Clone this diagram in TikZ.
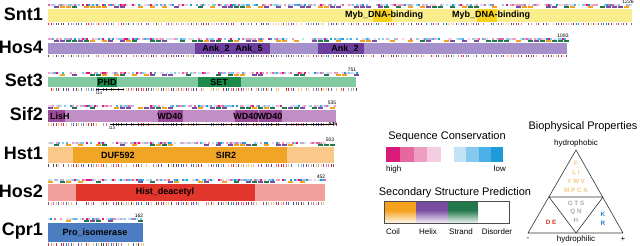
\documentclass[tikz,border=0pt]{standalone}
\usepackage{fontspec}
\setmainfont{Liberation Sans}
\usetikzlibrary{positioning, calc}

%% Conservation (high -> low), secondary structure, biophysical colours
\definecolor{cons1}{HTML}{D81B7A}
\definecolor{cons2}{HTML}{E5699F}
\definecolor{cons3}{HTML}{EC9DC0}
\definecolor{cons4}{HTML}{F4CDE0}
\definecolor{cons5}{HTML}{C3E2F5}
\definecolor{cons6}{HTML}{86C8EE}
\definecolor{cons7}{HTML}{4BB0E6}
\definecolor{cons8}{HTML}{1E9AD8}
\colorlet{tr1}{cons1}  \colorlet{tr2}{cons2}  \colorlet{tr3}{cons3}
\colorlet{tr4}{cons3}  \colorlet{tr5}{cons4}  \colorlet{tr6}{cons4}
\colorlet{tr7}{cons5}  \colorlet{tr8}{cons5}  \colorlet{tr9}{cons6}
\colorlet{tr10}{cons6} \colorlet{tr11}{cons7} \colorlet{tr12}{cons8}
\definecolor{ss1}{HTML}{F4A11E}
\definecolor{ss2}{HTML}{7A4DA0}
\definecolor{ss3}{HTML}{22784A}
\definecolor{bp1}{HTML}{F6C27C}
\definecolor{bp2}{HTML}{F6C27C}
\definecolor{bp3}{HTML}{A8A8A8}
\definecolor{bp4}{HTML}{D9342B}
\definecolor{bp5}{HTML}{2D7BC0}
\definecolor{bp6}{HTML}{4D4D4D}
\definecolor{bp7}{HTML}{7A4DA0}
\definecolor{bp8}{HTML}{E5699F}
%% Bars and domains
\definecolor{sntbar}{HTML}{FAEE8C}
\definecolor{sntdom}{HTML}{F8D21C}
\definecolor{hosbar}{HTML}{A690CC}
\definecolor{hosdom}{HTML}{6C3E9E}
\definecolor{setbar}{HTML}{80C9A1}
\definecolor{setdom}{HTML}{1B8A4B}
\definecolor{sifbar}{HTML}{C28EC6}
\definecolor{sifdom}{HTML}{9A4A98}
\definecolor{hstbar}{HTML}{FAC98A}
\definecolor{hstdom}{HTML}{F0A526}
\definecolor{hsrbar}{HTML}{F2A09E}
\definecolor{hsrdom}{HTML}{E2352B}
\definecolor{cprbar}{HTML}{4C7CC2}
\definecolor{hydrophobe}{HTML}{F5C884}
\definecolor{polar}{HTML}{ABABAB}

\tikzset{
  protein/.style = {font = \bfseries\fontsize{18}{18}\selectfont, anchor = east, inner sep = 0pt},
  domainlabel/.style = {font = \bfseries\fontsize{9}{9}\selectfont, inner sep = 0pt},
  seqlength/.style = {font = \fontsize{5}{5}\selectfont, inner sep = 0pt},
  poslabel/.style = {font = \fontsize{4}{4}\selectfont, inner sep = 0pt},
  legendtitle/.style = {font = \fontsize{11}{11}\selectfont, inner sep = 0pt},
  legendlabel/.style = {font = \fontsize{8}{8}\selectfont, inner sep = 0pt},
  swatch/.style = {anchor = north west, inner sep = 0pt, minimum height = 15pt},
  residue/.style = {font = \bfseries\fontsize{6.3}{6.3}\selectfont, inner sep = 0pt},
  triangleline/.style = {draw = black!80, line width = 0.6pt, line join = round}
}
\def \barstart {48}

\begin{document}
\begin{tikzpicture}[x = 1pt, y = -1pt]
\useasboundingbox (0,0) rectangle (640,246);

\foreach \prot/\ybar/\bh/\len/\seqlen/\col [count = \i] in
  {Snt1/9/13/632/1226/sntbar, Hos4/43/11/567/1083/hosbar, Set3/77/10/356/751/setbar,
   Sif2/110/12/336/535/sifbar, Hst1/147/16/334/503/hstbar, Hos2/184/17/325/452/hsrbar,
   Cpr1/223/19/143/162/cprbar} {
  \pgfmathsetseed{\i*37}

  %% Names and bars
  \node [protein] (name\i) at (43, {\ybar+\bh/2-1.5}) {\prot};
  \fill [\col] (\barstart, \ybar) rectangle (\len, {\ybar+\bh});
  \node [seqlength] (len\i) at ({\len-4}, {\ybar-7.5}) {\seqlen};

  %% Conservation track
  \foreach \x in {48,50,...,\len} {
    \pgfmathrandominteger{\rnd}{1}{17}
    \ifnum \rnd < 13
      \fill [tr\rnd] (\x, {\ybar-5}) rectangle ++(1.6, 2);
    \fi
  }
  %% Secondary structure track
  \foreach \x in {48,54,...,\len} {
    \pgfmathrandominteger{\rnd}{1}{6}
    \ifnum \rnd < 4
      \fill [ss\rnd] (\x, {\ybar-3}) rectangle ++(5, 1.8);
    \fi
  }
  %% Biophysical track
  \foreach \x in {48,50.5,...,\len} {
    \pgfmathrandominteger{\rnd}{1}{10}
    \ifnum \rnd < 9
      \fill [bp\rnd] (\x, {\ybar+\bh+1}) rectangle ++(1.2, 2.5);
    \fi
  }
}

%% Domains
\foreach \xa/\xb/\ya/\yb/\col in
  {373/392/9/22/sntdom, 477/497/9/22/sntdom,
   195/270/43/54/hosdom, 318/364/43/54/hosdom,
   97/117/77/87/setdom, 198/241/77/87/setdom,
   48/65/110/122/sifdom, 158/183/110/122/sifdom, 235/258/110/122/sifdom, 258.6/282/110/122/sifdom,
   73/166.6/147/163/hstdom, 167.4/287/147/163/hstdom,
   76/255/184/201/hsrdom}
  \fill [\col] (\xa, \ya) rectangle (\xb, \yb);

\node [domainlabel] (myb1) at (384,15.5) {Myb\_DNA-binding};
\node [domainlabel] (myb2) at (491,15.5) {Myb\_DNA-binding};
\node [domainlabel] (ank1) at (216,48.5) {Ank\_2};
\node [domainlabel] (ank2) at (249,48.5) {Ank\_5};
\node [domainlabel] (ank3) at (345,48.5) {Ank\_2};
\node [domainlabel] (phd)  at (107,82) {PHD};
\node [domainlabel] (set)  at (219,82) {SET};
\node [domainlabel, anchor = west] (lish) at (50,116) {LisH};
\node [domainlabel] (wd1)  at (170,116) {WD40};
\node [domainlabel] (wd2)  at (246,116) {WD40};
\node [domainlabel] (wd3)  at (270,116) {WD40};
\node [domainlabel] (duf)  at (118,155) {DUF592};
\node [domainlabel] (sir)  at (226,155) {SIR2};
\node [domainlabel] (hist) at (165,192.5) {Hist\_deacetyl};
\node [domainlabel] (pro)  at (95,232.5) {Pro\_isomerase};

%% Region marks
\draw [line width = 0.9pt] (96,89) -- (124,89);
\node [poslabel] (pos1) at (99,93) {114};
\draw [line width = 0.9pt] (110,124.3) -- (334,124.3);
\node [poslabel] (pos2) at (112,128.5) {113};
\node [poslabel, font = \bfseries\fontsize{4.5}{5}\selectfont] (pos3) at (333,124) {535};

%% Sequence conservation legend
\node [legendtitle] (constitle) at (447,137) {Sequence Conservation};
\foreach \c in {1,...,4} {
  \node [swatch, fill = cons\c, minimum width = 13.75pt] (sw\c) at ({386+(\c-1)*13.75}, 147) {};
  \node [swatch, fill = cons\the\numexpr\c+4\relax, minimum width = 12.25pt] (sw\c b) at ({454+(\c-1)*12.25}, 147) {};
}
\node [legendlabel, anchor = west] (high) at (386,169) {high};
\node [legendlabel, anchor = east] (low) at (506,169) {low};

%% Secondary structure legend
\node [legendtitle] (sstitle) at (455,193) {Secondary Structure Prediction};
\foreach \xa/\xb/\c in {384/416/ss1, 416/448/ss2, 448/478/ss3} {
  \fill [\c] (\xa,201) rectangle (\xb,210);
  \shade [top color = \c, bottom color = \c!8] (\xa,210) rectangle (\xb,223);
}
\draw [black!70, line width = 0.6pt] (384,201) rectangle (509,223);
\node [legendlabel] (coil) at (393,231.5) {Coil};
\node [legendlabel] (helix) at (428,231.5) {Helix};
\node [legendlabel] (strand) at (461,231.5) {Strand};
\node [legendlabel] (disorder) at (497,231.5) {Disorder};

%% Biophysical properties legend
\node [legendtitle] (biotitle) at (583,127) {Biophysical Properties};
\node [legendlabel] (phobic) at (576,143) {hydrophobic};
\coordinate (apex) at (576,150);
\coordinate (bl) at (528,233);
\coordinate (br) at (623,233);
\coordinate (ml) at (549,197);
\coordinate (mr) at (603,197);
\coordinate (mb) at (576,233);
\draw [triangleline] (apex) -- (bl) -- (br) -- cycle;
\draw [triangleline] (ml) -- (mr) -- (mb) -- cycle;
\foreach \res/\y [count = \k] in {F/163, L I/172, Y W V/181, M P C A/190}
  \node [residue, hydrophobe] (hyd\k) at (576,\y) {\res};
\foreach \res/\y [count = \k] in {G T S/203, Q N/211.5, H/220}
  \node [residue, polar] (pol\k) at (576,\y) {\res};
\node [residue, bp4] (acid) at (551,222) {D E};
\node [residue, bp5] (base1) at (603,214) {K};
\node [residue, bp5] (base2) at (603,223) {R};
\node [legendlabel] (minus) at (528,239.5) {-};
\node [legendlabel] (philic) at (576,239.5) {hydrophilic};
\node [legendlabel] (plus) at (623,239.5) {+};

\end{tikzpicture}
\end{document}
